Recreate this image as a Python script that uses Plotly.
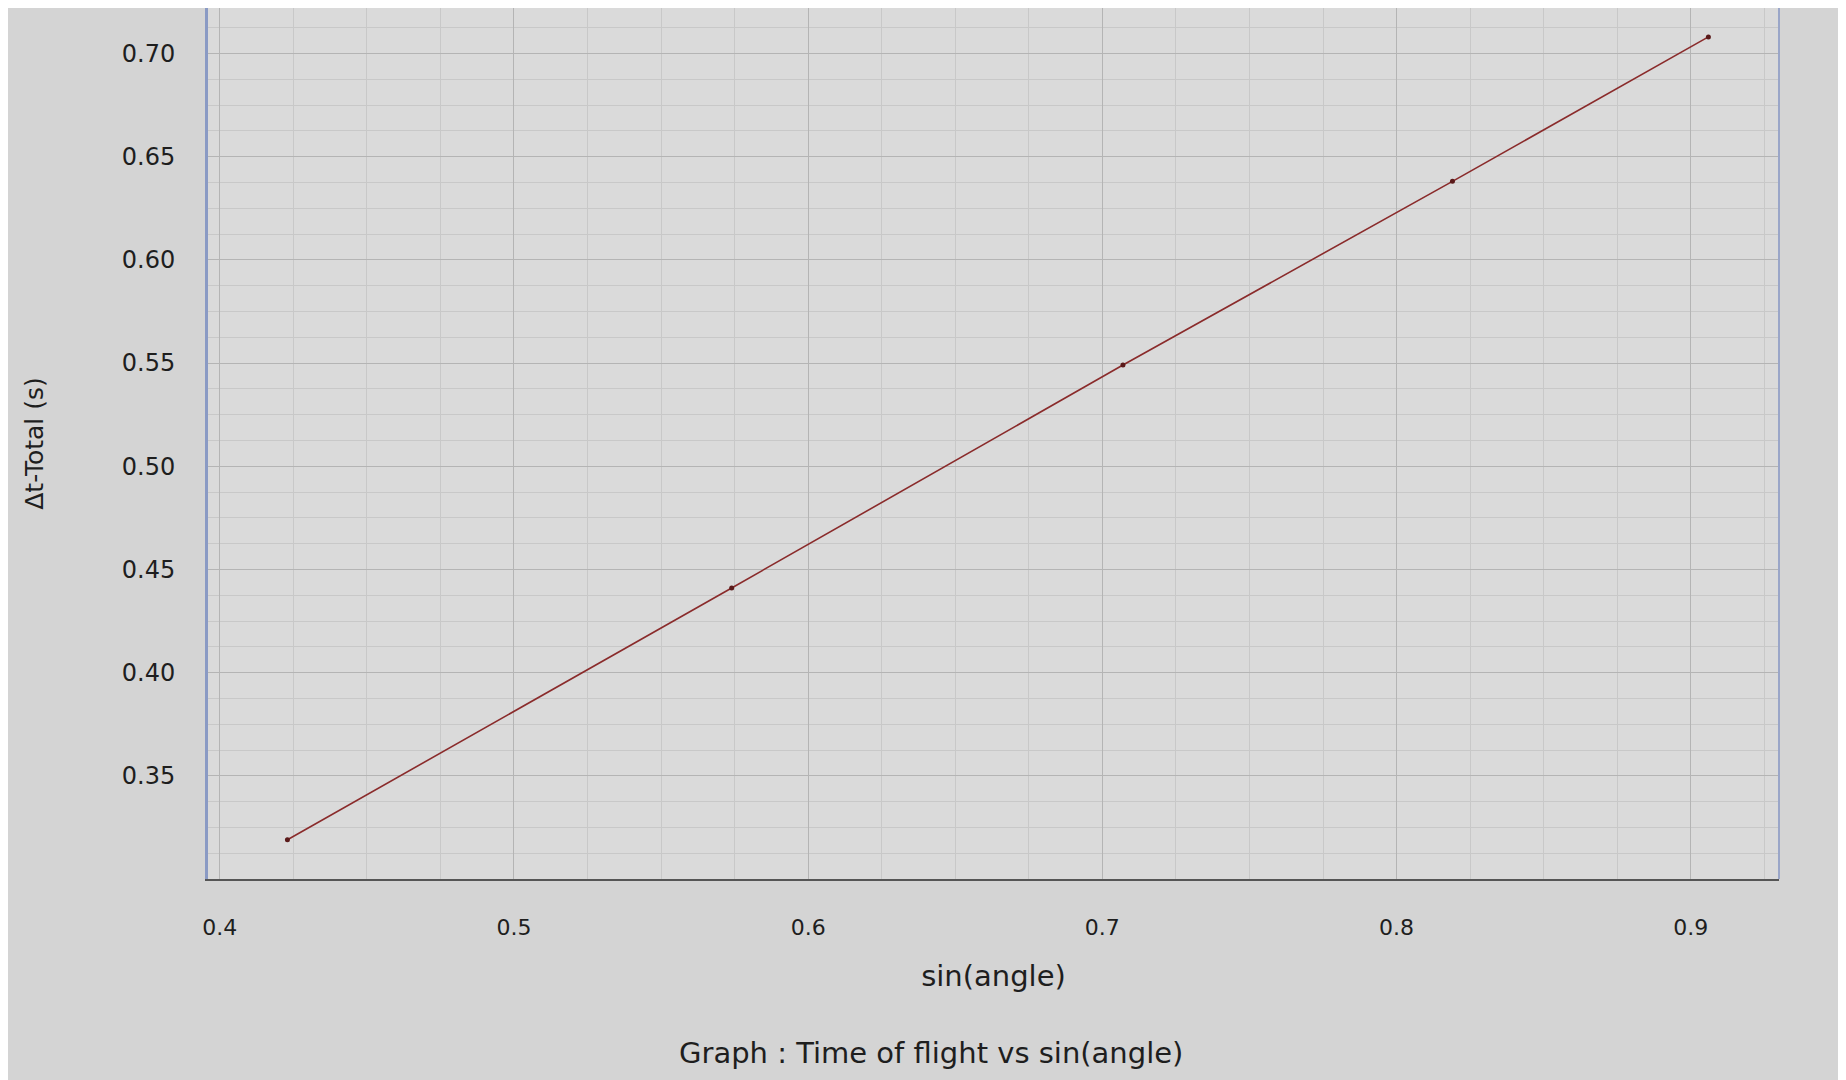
import plotly.graph_objects as go

# sin(angle) vs measured time of flight
sin_angle = [0.423, 0.574, 0.707, 0.819, 0.906]
time_flight = [0.319, 0.441, 0.549, 0.638, 0.708]

x_ticks = [0.4, 0.5, 0.6, 0.7, 0.8, 0.9]
y_ticks = [0.35, 0.40, 0.45, 0.50, 0.55, 0.60, 0.65, 0.70]

fig = go.Figure()
fig.add_trace(go.Scatter(
    x=sin_angle, y=time_flight,
    mode='lines+markers',
    line=dict(color='#8a2b2b', width=1.6),
    marker=dict(color='#5a1a1a', size=5),
    showlegend=False
))

fig.update_layout(
    width=1846, height=1080,
    paper_bgcolor='#d4d4d4',
    plot_bgcolor='#dadada',
    margin=dict(l=200, r=75, t=0, b=209),
    font=dict(family='DejaVu Sans', color='#1e1e1e', size=20),
    annotations=[dict(
        text='Graph : Time of flight vs sin(angle)',
        x=0.46, y=-0.222, xref='paper', yref='paper',
        showarrow=False, font=dict(size=29, color='#1e1e1e')
    )]
)

fig.update_xaxes(
    range=[0.396, 0.93],
    tickvals=x_ticks, ticktext=['0.4', '0.5', '0.6', '0.7', '0.8', '0.9'],
    tickfont=dict(size=22),
    showgrid=True, gridcolor='#b4b4b4', gridwidth=1.2,
    minor=dict(dtick=0.025, showgrid=True, gridcolor='#c8c8c8', gridwidth=0.8),
    showline=True, linecolor='#555555', linewidth=2,
    ticks='', ticklabelstandoff=28,
    title=dict(text='sin(angle)', font=dict(size=29), standoff=26),
    zeroline=False
)
fig.update_yaxes(
    range=[0.30, 0.722],
    tickvals=y_ticks, ticktext=['0.35', '0.40', '0.45', '0.50', '0.55', '0.60', '0.65', '0.70'],
    tickfont=dict(size=24),
    showgrid=True, gridcolor='#b4b4b4', gridwidth=1.2,
    minor=dict(dtick=0.0125, showgrid=True, gridcolor='#c8c8c8', gridwidth=0.8),
    showline=True, linecolor='#8a9ac4', linewidth=3, mirror=False,
    ticks='', ticklabelstandoff=25,
    title=dict(text='Δt-Total (s)', font=dict(size=25), standoff=72),
    zeroline=False
)

# right border of the plot frame
fig.add_shape(type='line', xref='paper', yref='paper', x0=1, x1=1, y0=0, y1=1,
              line=dict(color='#9aa6c8', width=2))

fig.write_html("out.html")
